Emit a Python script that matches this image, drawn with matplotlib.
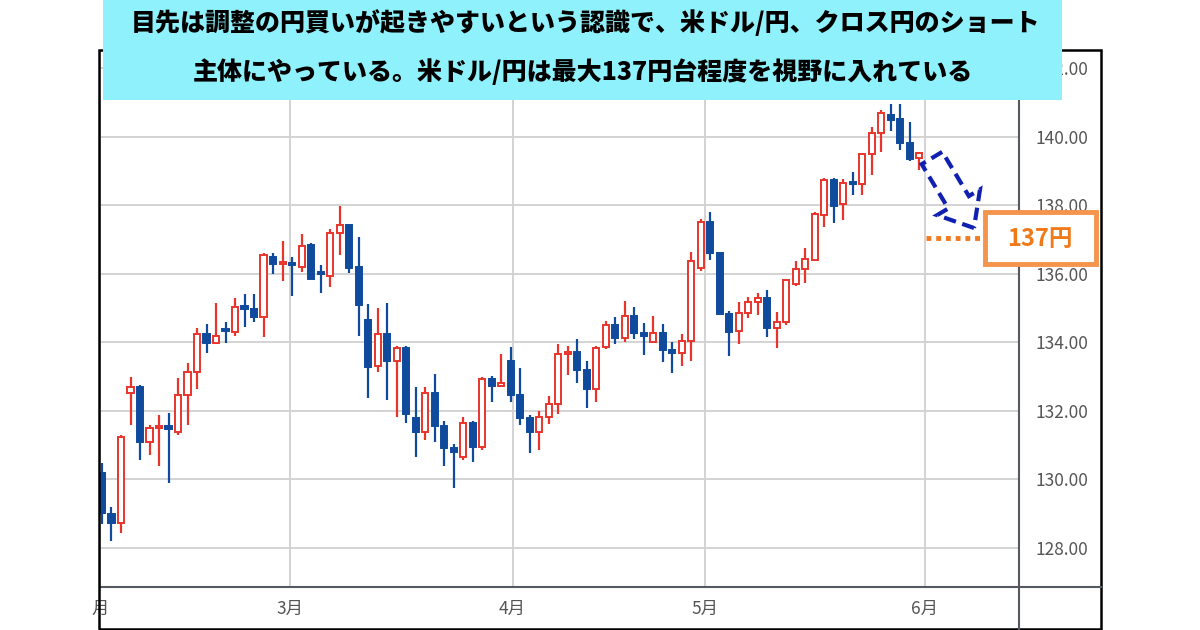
import matplotlib
matplotlib.use("Agg")
import matplotlib.pyplot as plt
from matplotlib.patches import Rectangle, FancyArrow
from matplotlib.lines import Line2D
from matplotlib.transforms import IdentityTransform

plt.rcParams['font.family'] = ['Noto Sans CJK JP', 'DejaVu Sans']

# daily USD/JPY candles, Feb - Jun
opens = [130.18, 129.0, 128.73, 132.53, 132.7, 131.1, 131.5, 131.57, 131.4, 132.47,
         133.14, 134.25, 133.99, 134.36, 134.31, 135.07, 134.98, 134.75, 136.5, 136.28,
         136.32, 136.2, 136.85, 136.03, 135.95, 137.2, 137.43, 136.2, 134.66, 133.3,
         134.25, 133.46, 133.84, 131.8, 131.4, 132.53, 131.56, 130.92, 130.66, 131.65,
         130.95, 132.93, 132.73, 133.46, 132.47, 131.8, 131.4, 131.82, 132.2, 133.66,
         133.72, 133.2, 132.64, 133.87, 134.5, 134.13, 134.77, 134.28, 134.01, 134.28,
         133.78, 133.69, 134.04, 136.18, 137.52, 136.6, 134.83, 134.34, 134.86, 135.18,
         135.3, 134.42, 134.6, 135.7, 136.15, 136.4, 137.72, 138.74, 138.04, 138.68,
         138.63, 139.5, 140.12, 140.64, 140.53, 139.82, 139.39]
highs = [130.48, 129.2, 131.3, 133.0, 132.75, 131.6, 131.88, 131.94, 132.97, 133.4,
         134.42, 134.54, 135.15, 134.6, 135.3, 135.41, 135.42, 136.6, 136.6, 136.97,
         136.5, 137.17, 136.9, 136.26, 137.3, 137.98, 137.45, 137.08, 135.12, 135.0,
         135.15, 133.9, 133.9, 132.7, 132.7, 133.08, 131.7, 131.03, 131.82, 131.7,
         133.0, 133.02, 133.66, 133.87, 133.26, 131.88, 132.0, 132.43, 133.95, 133.9,
         134.1, 133.46, 133.9, 134.62, 134.74, 135.2, 135.04, 134.57, 134.77, 134.54,
         134.01, 134.25, 136.64, 137.6, 137.8, 136.65, 134.92, 135.18, 135.33, 135.45,
         135.53, 134.9, 135.85, 136.38, 136.76, 137.8, 138.8, 138.8, 138.77, 138.98,
         139.5, 140.29, 140.79, 140.96, 140.96, 140.44, 139.55]
lows = [128.7, 128.2, 128.45, 131.6, 130.57, 130.7, 130.4, 129.9, 131.3, 131.6,
        132.64, 133.7, 133.99, 133.99, 134.2, 134.45, 134.6, 134.16, 136.0, 135.8,
        135.36, 136.05, 135.85, 135.45, 135.62, 136.55, 136.04, 134.2, 132.38, 133.13,
        132.32, 131.82, 131.65, 130.66, 131.15, 131.1, 130.4, 129.75, 130.57, 130.51,
        130.86, 132.26, 132.7, 132.26, 131.6, 130.77, 130.86, 131.62, 131.9, 133.05,
        132.82, 132.09, 132.26, 133.81, 133.95, 134.01, 134.1, 133.63, 134.0, 133.43,
        133.1, 133.31, 133.46, 136.1, 136.4, 134.83, 133.6, 133.95, 134.72, 134.8,
        134.16, 133.84, 134.5, 135.65, 135.74, 136.4, 137.37, 137.49, 137.58, 138.3,
        138.3, 138.9, 139.56, 140.18, 139.62, 139.3, 139.04]
closes = [129.01, 128.73, 131.24, 132.7, 131.1, 131.5, 131.55, 131.48, 132.47, 133.14,
          134.25, 133.98, 134.2, 134.33, 135.03, 134.97, 134.74, 136.55, 136.29, 136.3,
          136.26, 136.82, 135.85, 136.0, 137.2, 137.43, 136.18, 135.1, 133.28, 134.25,
          133.46, 133.84, 131.9, 131.4, 132.53, 131.56, 130.92, 130.8, 131.65, 130.95,
          132.93, 132.73, 132.82, 132.47, 131.8, 131.4, 131.82, 132.2, 133.66, 133.72,
          133.2, 132.64, 133.84, 134.5, 134.13, 134.77, 134.28, 134.19, 134.28, 133.78,
          133.69, 134.04, 136.38, 137.52, 136.6, 134.83, 134.31, 134.86, 135.18, 135.3,
          134.42, 134.6, 135.82, 136.15, 136.44, 137.75, 138.74, 137.98, 138.65, 138.63,
          139.5, 140.12, 140.7, 140.5, 139.82, 139.36, 139.53]

month_pos = [-0.2, 19.8, 43.2, 63.5, 86.6]
month_labels = ["月", "3月", "4月", "5月", "6月"]
price_ticks = [128, 130, 132, 134, 136, 138, 140, 142]

W, H = 1200, 630
up_col = "#e8352c"
dn_col = "#0f4a9c"
frame_col = "#555a60"

fig = plt.figure(figsize=(12, 6.3), dpi=100)


def fx(x):
    return x / W


def fy(y):
    return 1 - y / H


ax = fig.add_axes([fx(100), fy(587), (1019 - 100) / W, (587 - 50) / H])
ax.set_xlim(-0.21, 96.5)
ax.set_ylim(126.86, 142.54)

for i, (o, h, l, c) in enumerate(zip(opens, highs, lows, closes)):
    col = up_col if c >= o else dn_col
    ax.vlines(i, l, h, color=col, lw=1.6, zorder=3)
    bottom, top = min(o, c), max(o, c)
    ax.add_patch(Rectangle((i - 0.32, bottom), 0.64, max(top - bottom, 0.06),
                           facecolor="white" if c >= o else dn_col,
                           edgecolor=col, lw=1.4, zorder=4))

ax.set_xticks(month_pos)
ax.set_xticklabels(month_labels)
ax.set_yticks(price_ticks)
ax.set_yticklabels([f"{p:.2f}" for p in price_ticks])
ax.yaxis.tick_right()
ax.grid(True, color="#d0d0d0", lw=1.3, zorder=0)
ax.tick_params(length=0, labelsize=12.5, colors="#555555")
ax.tick_params(axis="y", pad=12)
ax.tick_params(axis="x", pad=9)
for s in ["top", "left"]:
    ax.spines[s].set_visible(False)
for s in ["right", "bottom"]:
    ax.spines[s].set_color(frame_col)
    ax.spines[s].set_linewidth(1.5)

# outer frame and panel separators
fig.add_artist(Rectangle((fx(99), fy(629)), fx(1101) - fx(99), fy(50) - fy(629),
                         transform=fig.transFigure, fill=False, edgecolor="black", lw=1.8))
fig.add_artist(Line2D([fx(1019), fx(1019)], [fy(587), fy(629)], transform=fig.transFigure,
                      color=frame_col, lw=1.5))
fig.add_artist(Line2D([fx(1019), fx(1101)], [fy(587), fy(587)], transform=fig.transFigure,
                      color=frame_col, lw=1.5))

# title box
fig.add_artist(Rectangle((fx(103), fy(100)), fx(1062) - fx(103), fy(0) - fy(100),
                         transform=fig.transFigure, facecolor="#8ef1fb", edgecolor="none", zorder=5))
fig.text(fx(586), fy(23), "目先は調整の円買いが起きやすいという認識で、米ドル/円、クロス円のショート",
         ha="center", va="center", fontsize=18, fontweight="heavy", zorder=6)
fig.text(fx(583), fy(72), "主体にやっている。米ドル/円は最大137円台程度を視野に入れている",
         ha="center", va="center", fontsize=18, fontweight="heavy", zorder=6)

# 137 annotation
fig.add_artist(Line2D([fx(926), fx(983)], [fy(238), fy(238)], transform=fig.transFigure,
                      color="#f07a22", lw=3.5, ls=(0, (1, 1))))
fig.add_artist(Rectangle((fx(985), fy(264)), fx(1096) - fx(985), fy(212) - fy(264),
                         transform=fig.transFigure, facecolor="white", edgecolor="#f5944c",
                         lw=3.5, zorder=5))
fig.text(fx(1040), fy(239), "137円", ha="center", va="center", fontsize=17,
         fontweight="bold", color="#f07a1a", zorder=6)

# dashed arrow, drawn in pixel coordinates
arrow = FancyArrow(932, H - 158, 974 - 932, (H - 228) - (H - 158),
                   width=24, head_width=50, head_length=30,
                   length_includes_head=True, transform=IdentityTransform(),
                   fill=False, edgecolor="#1020b0", lw=3, ls=(0, (3, 1.6)))
fig.add_artist(arrow)

fig.savefig("out.png", dpi=100)
